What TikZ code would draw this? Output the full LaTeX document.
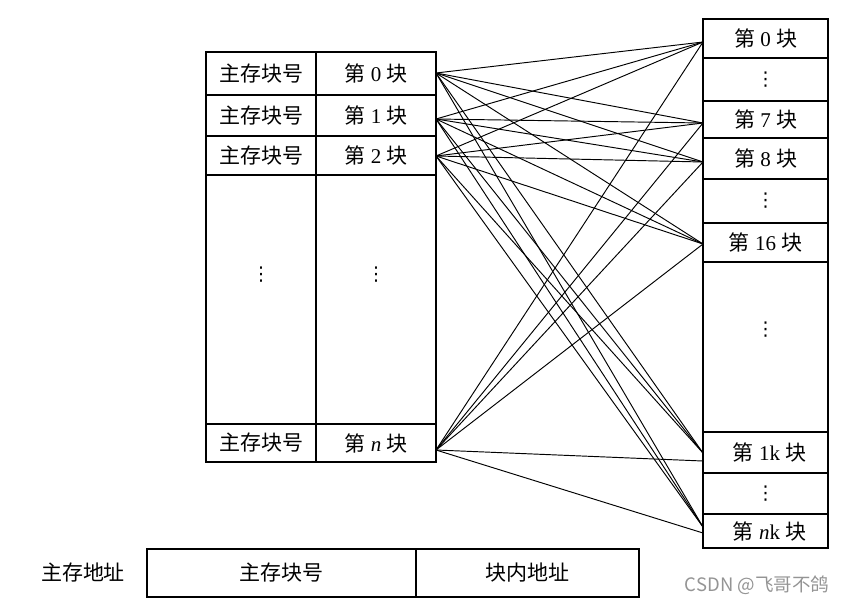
\documentclass[tikz,border=0pt]{standalone}
\usepackage{fontspec}
\setmainfont{Liberation Serif}
\newfontfamily\cjk{Noto Sans CJK SC}
\newfontfamily\dvu{DejaVu Sans}
\newcommand{\zh}[1]{{\cjk #1}}
\newcommand{\mvdots}{{\dvu\fontsize{19}{22}\selectfont ⋮}}
\begin{document}
\begin{tikzpicture}[x=1pt,y=-1pt,
  cell/.style={draw, line width=1.1pt, inner sep=0pt, font=\fontsize{21}{25}\selectfont},
  lbl/.style={inner sep=0pt, font=\fontsize{21}{25}\selectfont},
  conn/.style={line width=0.95pt},
  wm/.style={inner sep=0pt, text=black!42, font=\fontsize{18.5}{22}\selectfont\cjk}]
\useasboundingbox (0,0) rectangle (846,613);
% left table, column 1 (x 206-316), column 2 (x 316-436)
\node[cell, minimum width=110pt, minimum height=43pt] (a0) at (261,73.5) {\zh{主存块号}};
\node[cell, minimum width=120pt, minimum height=43pt] (b0) at (376,73.5) {\zh{第} 0 \zh{块}};
\node[cell, minimum width=110pt, minimum height=41pt] (a1) at (261,115.5) {\zh{主存块号}};
\node[cell, minimum width=120pt, minimum height=41pt] (b1) at (376,115.5) {\zh{第} 1 \zh{块}};
\node[cell, minimum width=110pt, minimum height=39pt] (a2) at (261,155.5) {\zh{主存块号}};
\node[cell, minimum width=120pt, minimum height=39pt] (b2) at (376,155.5) {\zh{第} 2 \zh{块}};
\node[cell, minimum width=110pt, minimum height=249pt] (am) at (261,299.5) {};
\node[cell, minimum width=120pt, minimum height=249pt] (bm) at (376,299.5) {};
\node[lbl] (amd) at (261,275) {\mvdots};
\node[lbl] (bmd) at (376,275) {\mvdots};
\node[cell, minimum width=110pt, minimum height=38pt] (an) at (261,443) {\zh{主存块号}};
\node[cell, minimum width=120pt, minimum height=38pt] (bn) at (376,443) {\zh{第} \textit{n} \zh{块}};
% right table (x 703-828)
\node[cell, minimum width=125pt, minimum height=39pt] (r0) at (765.5,38.5) {\zh{第} 0 \zh{块}};
\node[cell, minimum width=125pt, minimum height=43pt] (rd1) at (765.5,79.5) {\mvdots};
\node[cell, minimum width=125pt, minimum height=37pt] (r7) at (765.5,119.5) {\zh{第} 7 \zh{块}};
\node[cell, minimum width=125pt, minimum height=41pt] (r8) at (765.5,158.5) {\zh{第} 8 \zh{块}};
\node[cell, minimum width=125pt, minimum height=44pt] (rd2) at (765.5,201) {\mvdots};
\node[cell, minimum width=125pt, minimum height=39pt] (r16) at (765.5,242.5) {\zh{第} 16 \zh{块}};
\node[cell, minimum width=125pt, minimum height=170pt] (rd3) at (765.5,347) {};
\node[lbl] (rd3d) at (765.5,330) {\mvdots};
\node[cell, minimum width=125pt, minimum height=41pt] (r1k) at (765.5,452.5) {\hspace{8pt}\zh{第} 1k \zh{块}};
\node[cell, minimum width=125pt, minimum height=41pt] (rd4) at (765.5,493.5) {\mvdots};
\node[cell, minimum width=125pt, minimum height=34pt] (rnk) at (765.5,531) {\hspace{8pt}\zh{第} \textit{n}k \zh{块}};
% connection points
\coordinate (s0) at (436,73);
\coordinate (s1) at (436,119);
\coordinate (s2) at (436,156);
\coordinate (sn) at (436,450);
\coordinate (t0) at (703,42);
\coordinate (t7) at (703,123);
\coordinate (t8) at (703,162);
\coordinate (t16) at (703,244);
\coordinate (t1k) at (703,453);
\coordinate (tnk) at (703,527);
\coordinate (t1kb) at (703,461);
\coordinate (tnkb) at (703,533);
\foreach \s in {s0,s1,s2}
  \foreach \t in {t0,t7,t8,t16,t1k,tnk}
    \draw[conn] (\s) -- (\t);
\foreach \t in {t0,t7,t8,t16,t1kb,tnkb}
  \draw[conn] (sn) -- (\t);
% address bar
\node[lbl] (addr) at (83,573) {\zh{主存地址}};
\node[cell, minimum width=269pt, minimum height=48pt] (ab) at (281.5,573) {\zh{主存块号}};
\node[cell, minimum width=223pt, minimum height=48pt] (ai) at (527.5,573) {\zh{块内地址}};
% watermark
\node[wm] (wmk) at (757,585) {CSDN @飞哥不鸽};
\end{tikzpicture}
\end{document}
